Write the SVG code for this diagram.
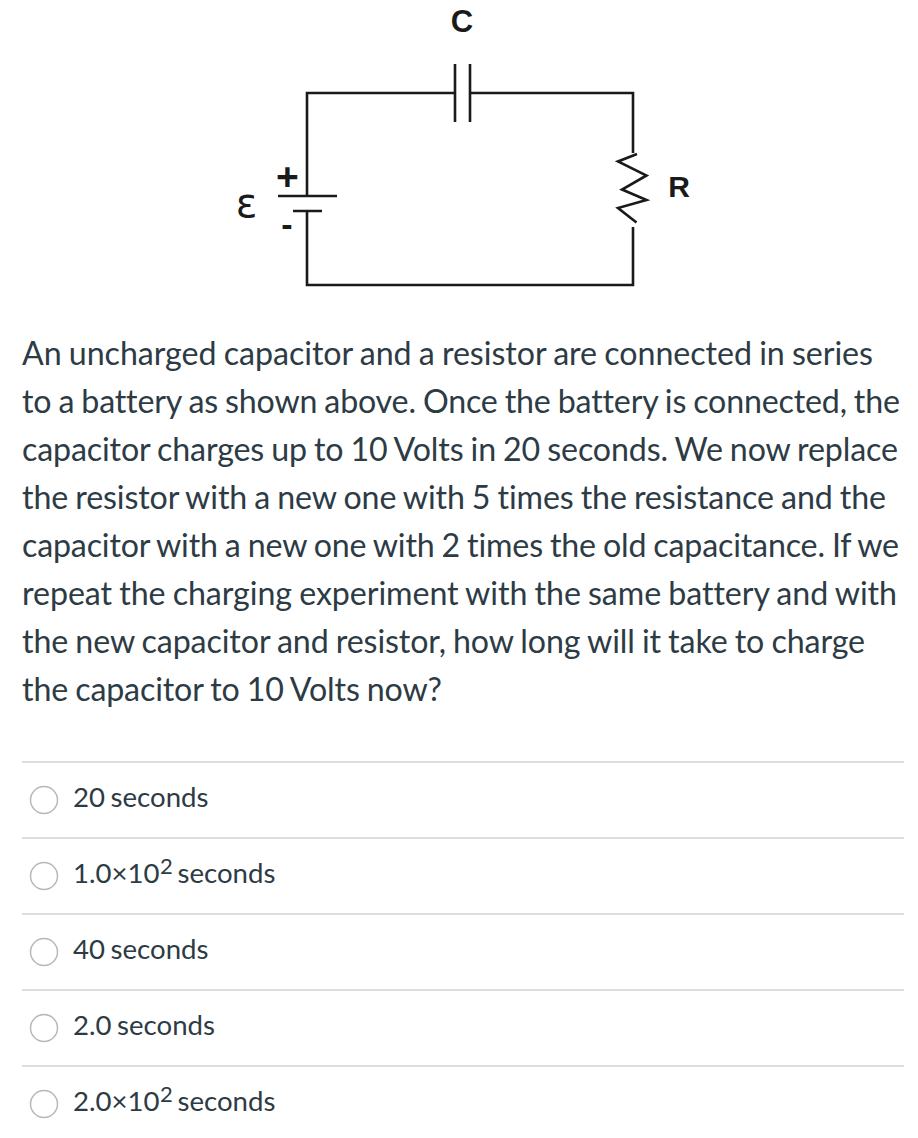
<svg xmlns="http://www.w3.org/2000/svg" width="918" height="1138" viewBox="0 0 918 1138">
<style>
.w{fill:none;stroke:#1a1a1a;stroke-width:2.6;stroke-linejoin:miter}
.b{font-family:"Liberation Sans",Arial,sans-serif;font-weight:700;fill:#1a1a1a}
.q{font-family:Lato,"Noto Sans",sans-serif;font-size:32.2px;word-spacing:-1px;font-variant-ligatures:none;fill:#2d3b45}
.a{font-family:Lato,"Noto Sans",sans-serif;font-size:27.6px;word-spacing:-1.5px;font-variant-ligatures:none;fill:#2d3b45}
.s{font-size:22px}
.d{stroke:#dddddd;stroke-width:2}
.r{fill:#fff;stroke:#b8b8b8;stroke-width:1.5}
</style>
<rect width="918" height="1138" fill="#fff"/>
<g id="connectors">
<path class="w" d="M455 93H307V196M307 211V285H633V227M633 153V93H470"/>
</g>
<g id="battery">
<path class="w" d="M278 196H337M293 211H322"/>
<text class="b" x="287.500" y="190" font-size="39" text-anchor="middle">+</text>
<text class="b" x="287" y="236" font-size="34" text-anchor="middle">-</text>
<text x="246.500" y="217" font-family="'DejaVu Sans',sans-serif" font-size="40" fill="#1a1a1a" text-anchor="middle">ε</text>
</g>
<g id="capacitor">
<path class="w" d="M455 64V122M470 64V122"/>
<text class="b" x="462" y="32" font-size="31" text-anchor="middle">C</text>
</g>
<g id="resistor">
<path class="w" d="M637 154L618 161.500L646.500 175.500L622 189.500L646.500 200L618 208L636.500 222.500"/>
<text class="b" x="679" y="197" font-size="30" text-anchor="middle">R</text>
</g>
<g id="question">
<text class="q" x="22" y="364.500" textLength="851">An uncharged capacitor and a resistor are connected in series</text>
<text class="q" x="22" y="412.500" textLength="878">to a battery as shown above. Once the battery is connected, the</text>
<text class="q" x="22" y="460.500" textLength="876">capacitor charges up to 10 Volts in 20 seconds. We now replace</text>
<text class="q" x="22" y="508.500" textLength="864">the resistor with a new one with 5 times the resistance and the</text>
<text class="q" x="22" y="556.500" textLength="877">capacitor with a new one with 2 times the old capacitance. If we</text>
<text class="q" x="22" y="604.500" textLength="875">repeat the charging experiment with the same battery and with</text>
<text class="q" x="22" y="652.500" textLength="843">the new capacitor and resistor, how long will it take to charge</text>
<text class="q" x="22" y="700.500" textLength="420">the capacitor to 10 Volts now?</text>
</g>
<g id="dividers">
<path class="d" d="M22 762H904M22 838H904M22 914H904M22 990H904M22 1066H904"/>
</g>
<g id="option1"><circle class="r" cx="44" cy="800" r="13.500"/><text class="a" x="73" y="807">20 seconds</text></g>
<g id="option2"><circle class="r" cx="44" cy="876" r="13.500"/><text class="a" x="73" y="883">1.0×10<tspan class="s" x="160" dy="-9">2</tspan><tspan x="177.500" dy="9">seconds</tspan></text></g>
<g id="option3"><circle class="r" cx="44" cy="952" r="13.500"/><text class="a" x="73" y="959">40 seconds</text></g>
<g id="option4"><circle class="r" cx="44" cy="1028" r="13.500"/><text class="a" x="73" y="1035">2.0 seconds</text></g>
<g id="option5"><circle class="r" cx="44" cy="1104" r="13.500"/><text class="a" x="73" y="1111">2.0×10<tspan class="s" x="160" dy="-9">2</tspan><tspan x="177.500" dy="9">seconds</tspan></text></g>
</svg>
